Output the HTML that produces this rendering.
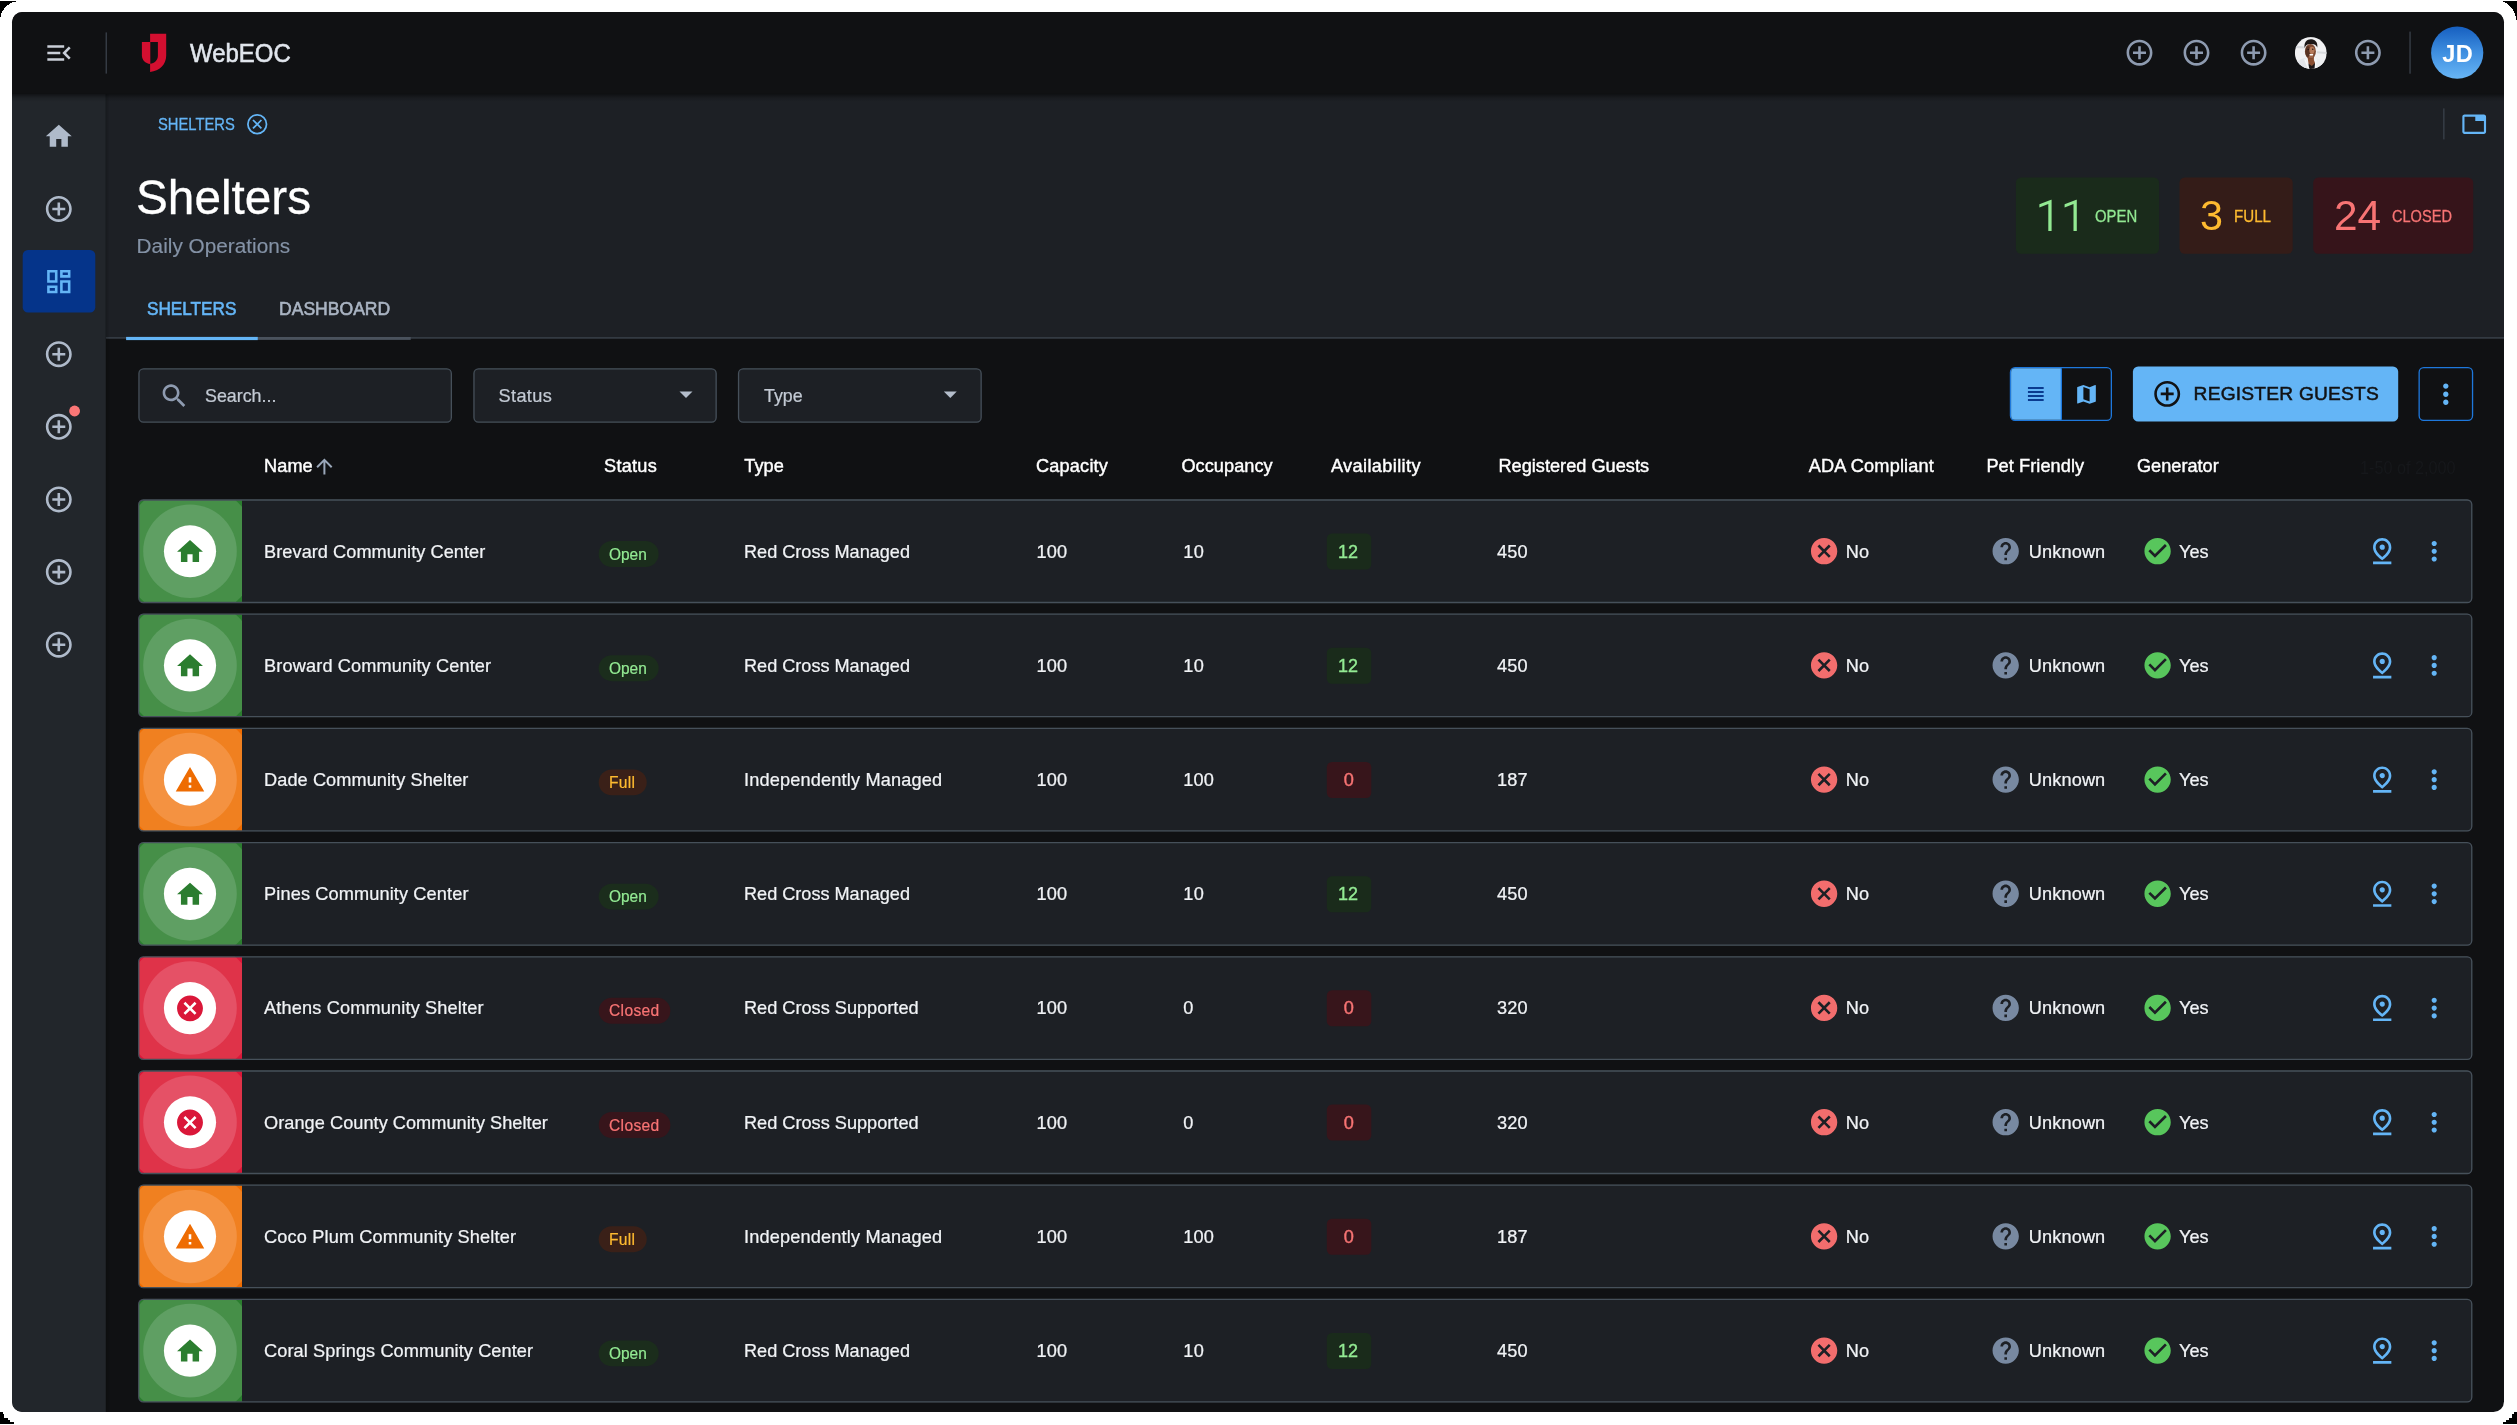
<!DOCTYPE html>
<html><head><meta charset="utf-8"><title>Shelters - WebEOC</title>
<style>
html,body{margin:0;padding:0;}
body{width:2517px;height:1425px;background:#fff;position:relative;overflow:hidden;font-family:"Liberation Sans", sans-serif;}
#app{position:absolute;left:12px;top:12px;width:2492px;height:1400px;border-radius:10.5px;overflow:hidden;background:#101113;}
#in{position:absolute;left:-12px;top:-12px;width:2517px;height:1425px;will-change:transform;}
#g{position:absolute;left:0;top:0;}
.t{position:absolute;white-space:nowrap;line-height:1;-webkit-font-smoothing:antialiased;font-family:"Liberation Sans", sans-serif;}
.c{position:absolute;}
</style></head><body>
<svg class="c" style="left:0;top:0" width="24" height="24" viewBox="0 0 24 24" shape-rendering="crispEdges"><path d="M0 1H20A20 20 0 0 0 0 21Z" fill="#000"/></svg>
<svg class="c" style="left:2493px;top:0" width="24" height="28" viewBox="0 0 24 28" shape-rendering="crispEdges"><path d="M24 1H6A18 24 0 0 1 24 25Z" fill="#000"/></svg>
<svg class="c" style="left:0;top:1405px" width="20" height="20" viewBox="0 0 20 20" shape-rendering="crispEdges"><path d="M0 7H3V9H4V13H8V15H10V17H14V19H0Z" fill="#000"/></svg>
<svg class="c" style="left:2497px;top:1405px" width="20" height="20" viewBox="0 0 20 20" shape-rendering="crispEdges"><path d="M20 7H17V9H15V13H12V15H9V17H6V19H20Z" fill="#000"/></svg>
<div id="app"><div id="in">
<svg id="g" width="2517" height="1425" viewBox="0 0 2517 1425"><defs><linearGradient id="gTop" x1="0" y1="0" x2="0" y2="1"><stop offset="0" stop-color="#000" stop-opacity=".5"/><stop offset=".5" stop-color="#000" stop-opacity=".15"/><stop offset="1" stop-color="#000" stop-opacity="0"/></linearGradient><linearGradient id="gSide" x1="0" y1="0" x2="1" y2="0"><stop offset="0" stop-color="#000" stop-opacity=".2"/><stop offset="1" stop-color="#000" stop-opacity="0"/></linearGradient><linearGradient id="gJD" x1="0" y1="0" x2="0" y2="1"><stop offset="0" stop-color="#165fc0"/><stop offset=".5" stop-color="#3f8fe0"/><stop offset="1" stop-color="#68b6f6"/></linearGradient><clipPath id="pc"><circle cx="15.9" cy="15.9" r="15.9"/></clipPath><filter id="pb" x="-10%" y="-10%" width="120%" height="120%"><feGaussianBlur stdDeviation="0.45"/></filter><clipPath id="rc0"><path d="M143.3 499.95H242V602.55H143.3A4.6 4.6 0 0 1 138.7 597.95V504.55A4.6 4.6 0 0 1 143.3 499.95Z"/></clipPath><clipPath id="rc1"><path d="M143.3 614.15H242V716.75H143.3A4.6 4.6 0 0 1 138.7 712.15V618.75A4.6 4.6 0 0 1 143.3 614.15Z"/></clipPath><clipPath id="rc2"><path d="M143.3 728.35H242V830.95H143.3A4.6 4.6 0 0 1 138.7 826.35V732.95A4.6 4.6 0 0 1 143.3 728.35Z"/></clipPath><clipPath id="rc3"><path d="M143.3 842.55H242V945.15H143.3A4.6 4.6 0 0 1 138.7 940.55V847.15A4.6 4.6 0 0 1 143.3 842.55Z"/></clipPath><clipPath id="rc4"><path d="M143.3 956.75H242V1059.35H143.3A4.6 4.6 0 0 1 138.7 1054.75V961.35A4.6 4.6 0 0 1 143.3 956.75Z"/></clipPath><clipPath id="rc5"><path d="M143.3 1070.95H242V1173.55H143.3A4.6 4.6 0 0 1 138.7 1168.95V1075.55A4.6 4.6 0 0 1 143.3 1070.95Z"/></clipPath><clipPath id="rc6"><path d="M143.3 1185.15H242V1287.75H143.3A4.6 4.6 0 0 1 138.7 1283.15V1189.75A4.6 4.6 0 0 1 143.3 1185.15Z"/></clipPath><clipPath id="rc7"><path d="M143.3 1299.35H242V1401.95H143.3A4.6 4.6 0 0 1 138.7 1397.35V1303.95A4.6 4.6 0 0 1 143.3 1299.35Z"/></clipPath></defs>
<rect x="105.8" y="94" width="2398.2" height="244.6" fill="#1d2025"/>
<rect x="105.8" y="337.2" width="2398.2" height="1.4" fill="#3a414a"/>
<rect x="12" y="94" width="93.8" height="1318" fill="#22262b"/>
<rect x="105.8" y="94" width="4" height="1318" fill="url(#gSide)"/>
<svg x="43.25" y="120.75" width="31.1" height="31.1" viewBox="0 0 24 24"><path fill="#afbaca" d="M10 20v-6h4v6h5v-8h3L12 3 2 12h3v8z"/></svg>
<svg x="43.25" y="193.38" width="31.1" height="31.1" viewBox="0 0 24 24"><path fill="#afbaca" d="M13 7h-2v4H7v2h4v4h2v-4h4v-2h-4V7zm-1-5C6.48 2 2 6.48 2 12s4.48 10 10 10 10-4.48 10-10S17.52 2 12 2zm0 18c-4.41 0-8-3.59-8-8s3.59-8 8-8 8 3.59 8 8-3.59 8-8 8z"/></svg>
<rect x="22.7" y="250.1" width="72.6" height="62.3" rx="5.2" fill="#05348a"/>
<svg x="43.25" y="266.01" width="31.1" height="31.1" viewBox="0 0 24 24"><path fill="#64b5f6" d="M19 5v2h-4V5h4M9 5v6H5V5h4m10 8v6h-4v-6h4M9 17v2H5v-2h4M21 3h-8v6h8V3zM11 3H3v10h8V3zm10 8h-8v10h8V11zm-10 4H3v6h8v-6z"/></svg>
<svg x="43.25" y="338.64" width="31.1" height="31.1" viewBox="0 0 24 24"><path fill="#afbaca" d="M13 7h-2v4H7v2h4v4h2v-4h4v-2h-4V7zm-1-5C6.48 2 2 6.48 2 12s4.48 10 10 10 10-4.48 10-10S17.52 2 12 2zm0 18c-4.41 0-8-3.59-8-8s3.59-8 8-8 8 3.59 8 8-3.59 8-8 8z"/></svg>
<svg x="43.25" y="411.27" width="31.1" height="31.1" viewBox="0 0 24 24"><path fill="#afbaca" d="M13 7h-2v4H7v2h4v4h2v-4h4v-2h-4V7zm-1-5C6.48 2 2 6.48 2 12s4.48 10 10 10 10-4.48 10-10S17.52 2 12 2zm0 18c-4.41 0-8-3.59-8-8s3.59-8 8-8 8 3.59 8 8-3.59 8-8 8z"/></svg>
<svg x="43.25" y="483.9" width="31.1" height="31.1" viewBox="0 0 24 24"><path fill="#afbaca" d="M13 7h-2v4H7v2h4v4h2v-4h4v-2h-4V7zm-1-5C6.48 2 2 6.48 2 12s4.48 10 10 10 10-4.48 10-10S17.52 2 12 2zm0 18c-4.41 0-8-3.59-8-8s3.59-8 8-8 8 3.59 8 8-3.59 8-8 8z"/></svg>
<svg x="43.25" y="556.53" width="31.1" height="31.1" viewBox="0 0 24 24"><path fill="#afbaca" d="M13 7h-2v4H7v2h4v4h2v-4h4v-2h-4V7zm-1-5C6.48 2 2 6.48 2 12s4.48 10 10 10 10-4.48 10-10S17.52 2 12 2zm0 18c-4.41 0-8-3.59-8-8s3.59-8 8-8 8 3.59 8 8-3.59 8-8 8z"/></svg>
<svg x="43.25" y="629.16" width="31.1" height="31.1" viewBox="0 0 24 24"><path fill="#afbaca" d="M13 7h-2v4H7v2h4v4h2v-4h4v-2h-4V7zm-1-5C6.48 2 2 6.48 2 12s4.48 10 10 10 10-4.48 10-10S17.52 2 12 2zm0 18c-4.41 0-8-3.59-8-8s3.59-8 8-8 8 3.59 8 8-3.59 8-8 8z"/></svg>
<circle cx="74.6" cy="411" r="5.4" fill="#fb7676"/>
<rect x="12" y="93.9" width="2492" height="8" fill="url(#gTop)"/>
<rect x="12" y="12" width="2492" height="81.9" fill="#101113"/>
<svg x="43.45" y="37.45" width="31.1" height="31.1" viewBox="0 0 24 24"><path fill="#c9ced8" d="M3 18h13v-2H3v2zm0-5h10v-2H3v2zm0-7v2h13V6H3zm18 9.59L17.42 12 21 8.41 19.59 7l-5 5 5 5L21 15.59z"/></svg>
<rect x="105.6" y="32.4" width="1.3" height="41.2" fill="#3a414b"/>
<path fill="#d30f30" d="M150.1 33.8H166.2V55.6C166.2 64.6 159.6 71 150.1 72.1V63.7C154.6 63.1 157.9 60.1 157.9 55.4V42.1H150.1Z"/><path fill="#d30f30" d="M141.9 42.1H150.3V64.1C145.2 63.4 141.9 60.2 141.9 55.3Z"/>
<svg x="2123.95" y="37.15" width="31.1" height="31.1" viewBox="0 0 24 24"><path fill="#8e9bb0" d="M13 7h-2v4H7v2h4v4h2v-4h4v-2h-4V7zm-1-5C6.48 2 2 6.48 2 12s4.48 10 10 10 10-4.48 10-10S17.52 2 12 2zm0 18c-4.41 0-8-3.59-8-8s3.59-8 8-8 8 3.59 8 8-3.59 8-8 8z"/></svg>
<svg x="2180.95" y="37.15" width="31.1" height="31.1" viewBox="0 0 24 24"><path fill="#8e9bb0" d="M13 7h-2v4H7v2h4v4h2v-4h4v-2h-4V7zm-1-5C6.48 2 2 6.48 2 12s4.48 10 10 10 10-4.48 10-10S17.52 2 12 2zm0 18c-4.41 0-8-3.59-8-8s3.59-8 8-8 8 3.59 8 8-3.59 8-8 8z"/></svg>
<svg x="2238.05" y="37.15" width="31.1" height="31.1" viewBox="0 0 24 24"><path fill="#8e9bb0" d="M13 7h-2v4H7v2h4v4h2v-4h4v-2h-4V7zm-1-5C6.48 2 2 6.48 2 12s4.48 10 10 10 10-4.48 10-10S17.52 2 12 2zm0 18c-4.41 0-8-3.59-8-8s3.59-8 8-8 8 3.59 8 8-3.59 8-8 8z"/></svg>
<svg x="2352.35" y="37.15" width="31.1" height="31.1" viewBox="0 0 24 24"><path fill="#8e9bb0" d="M13 7h-2v4H7v2h4v4h2v-4h4v-2h-4V7zm-1-5C6.48 2 2 6.48 2 12s4.48 10 10 10 10-4.48 10-10S17.52 2 12 2zm0 18c-4.41 0-8-3.59-8-8s3.59-8 8-8 8 3.59 8 8-3.59 8-8 8z"/></svg>
<svg x="2294.9" y="37.1" width="31.8" height="31.8" viewBox="0 0 31.8 31.8"><g clip-path="url(#pc)"><rect width="31.8" height="31.8" fill="#f1f1f3"/><g filter="url(#pb)"><path d="M0 8.5L9 9.5V11.5L0 10.8Z" fill="#d6d8dc"/><path d="M22 14.2L31.8 14.8V17L22 16.2Z" fill="#d9dbde"/><path d="M0 31.8V27C3 23 7 21.5 10.5 21L14.5 31.8Z" fill="#e3e5e9"/><path d="M31.8 31.8V26C28 23.5 24 22 20.5 21L19.5 31.8Z" fill="#eceef0"/><path d="M12.6 19.5H19V23L20.3 26.5L16.8 30L13.6 26.5Z" fill="#8a4f31"/><path d="M13.6 26.5L16.9 29L20.2 26L21 31.8H14Z" fill="#1a1718"/><path d="M10.2 21.2L14.6 31.8H13L9.4 22.5Z" fill="#f7f8f9"/><path d="M20.6 21L19.6 31.8H21.2L21.8 22Z" fill="#f7f8f9"/><ellipse cx="15.5" cy="14.3" rx="5.5" ry="7.5" fill="#7d4a33"/><ellipse cx="13" cy="14.5" rx="2.6" ry="5.6" fill="#4d2b1f" opacity=".75"/><ellipse cx="17" cy="13.2" rx="2.6" ry="3.6" fill="#c08362" opacity=".85"/><ellipse cx="16.2" cy="19.4" rx="2.4" ry="1.6" fill="#a86d4d" opacity=".8"/><path d="M9.7 11.2C8.8 5.2 12 2.2 15.8 2.2S23.2 4.6 22.4 10.4C21.4 8 19.8 6.9 16 6.9S10.8 8.2 9.7 11.2Z" fill="#1b1818"/><rect x="14.5" y="16.9" width="3.9" height="1.5" rx=".7" fill="#fff"/><circle cx="13.3" cy="12.4" r=".7" fill="#1a1212"/><circle cx="17.9" cy="12.1" r=".7" fill="#1a1212"/></g></g></svg>
<rect x="2409.4" y="31.6" width="1.3" height="42.1" fill="#3a414b"/>
<circle cx="2457.2" cy="52.7" r="26.1" fill="url(#gJD)"/>
<svg x="245.2" y="112.2" width="24" height="24" viewBox="0 0 24 24"><circle cx="12" cy="12" r="9.3" fill="none" stroke="#64b5f6" stroke-width="1.75"/><path d="M7.8 7.8L16.2 16.2M16.2 7.8L7.8 16.2" stroke="#64b5f6" stroke-width="1.75" fill="none"/></svg>
<rect x="2443.2" y="108.4" width="1.3" height="31" fill="#3a414b"/>
<svg x="2461.25" y="111.25" width="25.9" height="25.9" viewBox="0 0 24 24"><path fill="#64b5f6" d="M21 3H3c-1.1 0-2 .9-2 2v14c0 1.1.9 2 2 2h18c1.1 0 2-.9 2-2V5c0-1.1-.9-2-2-2zm0 16H3V5h10v4h8v10z"/></svg>
<rect x="2015.9" y="177.5" width="143.2" height="76.2" rx="5.2" fill="#1a2b1b"/>
<path fill="#92e992" d="M2051.6 231H2048.3V203.9L2039.4 207.4V204.2L2051.1 199.8H2051.6Z"/>
<path fill="#92e992" d="M2076.8 231H2073.5V203.9L2064.6 207.4V204.2L2076.3 199.8H2076.8Z"/>
<rect x="2179.5" y="177.5" width="113.2" height="76.2" rx="5.2" fill="#341c18"/>
<rect x="2313.2" y="177.5" width="160" height="76.2" rx="5.2" fill="#36141a"/>
<rect x="257.8" y="337" width="152.9" height="2.9" fill="#4a525d"/>
<rect x="126.1" y="336.9" width="131.7" height="3.2" fill="#64b5f6"/>
<rect x="138.95" y="368.85" width="312.4" height="53.2" rx="4.55" fill="#1d2025" stroke="#46505a" stroke-width="1.3"/>
<svg x="158.75" y="380.45" width="31.1" height="31.1" viewBox="0 0 24 24"><path fill="#8e9bb0" d="M15.5 14h-.79l-.28-.27C15.41 12.59 16 11.11 16 9.5 16 5.91 13.09 3 9.5 3S3 5.91 3 9.5 5.91 16 9.5 16c1.61 0 3.09-.59 4.23-1.57l.27.28v.79l5 4.99L20.49 19l-4.99-5zm-6 0C7.01 14 5 11.99 5 9.5S7.01 5 9.5 5 14 7.01 14 9.5 11.99 14 9.5 14z"/></svg>
<rect x="473.95" y="368.85" width="242.2" height="53.2" rx="4.55" fill="#1d2025" stroke="#46505a" stroke-width="1.3"/>
<svg x="670.45" y="378.65" width="31.1" height="31.1" viewBox="0 0 24 24"><path fill="#b4bdcb" d="M7 10l5 5 5-5z"/></svg>
<rect x="738.55" y="368.85" width="242.6" height="53.2" rx="4.55" fill="#1d2025" stroke="#46505a" stroke-width="1.3"/>
<svg x="934.75" y="378.65" width="31.1" height="31.1" viewBox="0 0 24 24"><path fill="#b4bdcb" d="M7 10l5 5 5-5z"/></svg>
<rect x="2010.45" y="367.65" width="100.9" height="52.7" rx="4.55" fill="#101113" stroke="#1e78dc" stroke-width="1.3"/>
<path fill="#64b5f6" d="M2061.3 368.3V419.7H2015A3.9 3.9 0 0 1 2011.1 415.8V372.2A3.9 3.9 0 0 1 2015 368.3Z"/>
<rect x="2060.7" y="368.3" width="1.3" height="51.4" fill="#1e78dc"/>
<svg x="2024" y="382.2" width="23.6" height="23.6" viewBox="0 0 24 24"><path fill="#0a3a8f" d="M4 15h16v-2H4v2zm0 4h16v-2H4v2zm0-8h16V9H4v2zm0-6v2h16V5H4z"/></svg>
<svg x="2074.05" y="381.85" width="24.9" height="24.9" viewBox="0 0 24 24"><path fill="#64b5f6" d="M20.5 3l-.16.03L15 5.1 9 3 3.36 4.9c-.21.07-.36.25-.36.48V20.5c0 .28.22.5.5.5l.16-.03L9 18.9l6 2.1 5.64-1.9c.21-.07.36-.25.36-.48V3.5c0-.28-.22-.5-.5-.5zM15 19l-6-2.11V5l6 2.11V19z"/></svg>
<rect x="2132.9" y="366.5" width="265.3" height="55.1" rx="5.2" fill="#64b5f6"/>
<svg x="2151.65" y="378.35" width="31.1" height="31.1" viewBox="0 0 24 24"><path fill="#111214" d="M13 7h-2v4H7v2h4v4h2v-4h4v-2h-4V7zm-1-5C6.48 2 2 6.48 2 12s4.48 10 10 10 10-4.48 10-10S17.52 2 12 2zm0 18c-4.41 0-8-3.59-8-8s3.59-8 8-8 8 3.59 8 8-3.59 8-8 8z"/></svg>
<rect x="2419.15" y="367.65" width="53.4" height="52.7" rx="4.55" fill="#101113" stroke="#1e78dc" stroke-width="1.3"/>
<svg x="2429.6" y="378" width="32.4" height="32.4" viewBox="0 0 24 24"><path fill="#64b5f6" d="M12 8c1.1 0 2-.9 2-2s-.9-2-2-2-2 .9-2 2 .9 2 2 2zm0 2c-1.1 0-2 .9-2 2s.9 2 2 2 2-.9 2-2-.9-2-2-2zm0 6c-1.1 0-2 .9-2 2s.9 2 2 2 2-.9 2-2-.9-2-2-2z"/></svg>
<svg x="312.4" y="454.5" width="24" height="24" viewBox="0 0 24 24"><path fill="#9aa7b9" d="M4 12l1.41 1.41L11 7.83V20h2V7.83l5.58 5.59L20 12l-8-8-8 8z"/></svg>
<rect x="138.1" y="499.35" width="2334.3" height="103.8" rx="5.2" fill="#1d2025"/>
<g clip-path="url(#rc0)"><rect x="138.7" y="499.95" width="103.3" height="102.6" fill="#2b7d2f"/><circle cx="190" cy="551.25" r="68.4" fill="#468f48"/><circle cx="190" cy="551.25" r="46.8" fill="#5f9f63"/></g>
<circle cx="190" cy="551.25" r="26.1" fill="#fff"/>
<rect x="138.75" y="500" width="2333" height="102.5" rx="4.55" fill="none" stroke="#46505a" stroke-width="1.3"/>
<svg x="174.45" y="536.2" width="31.1" height="31.1" viewBox="0 0 24 24"><path fill="#2b7d2f" d="M10 20v-6h4v6h5v-8h3L12 3 2 12h3v8z"/></svg>
<rect x="598.7" y="541.05" width="59.9" height="25.9" rx="12.95" fill="#1b2d1c"/>
<rect x="1326.8" y="533.55" width="44.5" height="36" rx="5.2" fill="#1a2b1b"/>
<svg x="1808.3" y="535.35" width="31.6" height="31.6" viewBox="0 0 24 24"><path fill="#f26d6d" d="M12 2C6.47 2 2 6.47 2 12s4.47 10 10 10 10-4.47 10-10S17.53 2 12 2zm5 13.59L15.59 17 12 13.41 8.41 17 7 15.59 10.59 12 7 8.41 8.41 7 12 10.59 15.59 7 17 8.41 13.41 12 17 15.59z"/></svg>
<svg x="1989.9" y="535.35" width="31.6" height="31.6" viewBox="0 0 24 24"><path fill="#7889a1" d="M12 2C6.48 2 2 6.48 2 12s4.48 10 10 10 10-4.48 10-10S17.52 2 12 2zm1 17h-2v-2h2v2zm2.07-7.75l-.9.92C13.45 12.9 13 13.5 13 15h-2v-.5c0-1.1.45-2.1 1.17-2.83l1.24-1.26c.37-.36.59-.86.59-1.41 0-1.1-.9-2-2-2s-2 .9-2 2H8c0-2.21 1.79-4 4-4s4 1.79 4 4c0 .88-.36 1.68-.93 2.25z"/></svg>
<svg x="2141.8" y="535.35" width="31.6" height="31.6" viewBox="0 0 24 24"><path fill="#58c65c" d="M12 2C6.48 2 2 6.48 2 12s4.48 10 10 10 10-4.48 10-10S17.52 2 12 2zm-2 15l-5-5 1.41-1.41L10 14.17l7.59-7.59L19 8l-9 9z"/></svg>
<svg x="2366.5" y="535.45" width="31.4" height="31.4" viewBox="0 0 24 24"><path fill="#64b5f6" d="M12 4c1.93 0 5 1.4 5 5.15 0 2.16-1.72 4.67-5 7.32-3.28-2.65-5-5.17-5-7.32C7 5.4 10.07 4 12 4m0-2C8.73 2 5 4.46 5 9.15c0 3.12 2.33 6.41 7 9.85 4.67-3.44 7-6.73 7-9.85C19 4.46 15.27 2 12 2zM12 7c-1.1 0-2 .9-2 2s.9 2 2 2a2 2 0 1 0 0-4zM5 20h14v2H5v-2z"/></svg>
<svg x="2418.65" y="535.7" width="31.1" height="31.1" viewBox="0 0 24 24"><path fill="#64b5f6" d="M12 8c1.1 0 2-.9 2-2s-.9-2-2-2-2 .9-2 2 .9 2 2 2zm0 2c-1.1 0-2 .9-2 2s.9 2 2 2 2-.9 2-2-.9-2-2-2zm0 6c-1.1 0-2 .9-2 2s.9 2 2 2 2-.9 2-2-.9-2-2-2z"/></svg>
<rect x="138.1" y="613.55" width="2334.3" height="103.8" rx="5.2" fill="#1d2025"/>
<g clip-path="url(#rc1)"><rect x="138.7" y="614.15" width="103.3" height="102.6" fill="#2b7d2f"/><circle cx="190" cy="665.45" r="68.4" fill="#468f48"/><circle cx="190" cy="665.45" r="46.8" fill="#5f9f63"/></g>
<circle cx="190" cy="665.45" r="26.1" fill="#fff"/>
<rect x="138.75" y="614.2" width="2333" height="102.5" rx="4.55" fill="none" stroke="#46505a" stroke-width="1.3"/>
<svg x="174.45" y="650.4" width="31.1" height="31.1" viewBox="0 0 24 24"><path fill="#2b7d2f" d="M10 20v-6h4v6h5v-8h3L12 3 2 12h3v8z"/></svg>
<rect x="598.7" y="655.25" width="59.9" height="25.9" rx="12.95" fill="#1b2d1c"/>
<rect x="1326.8" y="647.75" width="44.5" height="36" rx="5.2" fill="#1a2b1b"/>
<svg x="1808.3" y="649.55" width="31.6" height="31.6" viewBox="0 0 24 24"><path fill="#f26d6d" d="M12 2C6.47 2 2 6.47 2 12s4.47 10 10 10 10-4.47 10-10S17.53 2 12 2zm5 13.59L15.59 17 12 13.41 8.41 17 7 15.59 10.59 12 7 8.41 8.41 7 12 10.59 15.59 7 17 8.41 13.41 12 17 15.59z"/></svg>
<svg x="1989.9" y="649.55" width="31.6" height="31.6" viewBox="0 0 24 24"><path fill="#7889a1" d="M12 2C6.48 2 2 6.48 2 12s4.48 10 10 10 10-4.48 10-10S17.52 2 12 2zm1 17h-2v-2h2v2zm2.07-7.75l-.9.92C13.45 12.9 13 13.5 13 15h-2v-.5c0-1.1.45-2.1 1.17-2.83l1.24-1.26c.37-.36.59-.86.59-1.41 0-1.1-.9-2-2-2s-2 .9-2 2H8c0-2.21 1.79-4 4-4s4 1.79 4 4c0 .88-.36 1.68-.93 2.25z"/></svg>
<svg x="2141.8" y="649.55" width="31.6" height="31.6" viewBox="0 0 24 24"><path fill="#58c65c" d="M12 2C6.48 2 2 6.48 2 12s4.48 10 10 10 10-4.48 10-10S17.52 2 12 2zm-2 15l-5-5 1.41-1.41L10 14.17l7.59-7.59L19 8l-9 9z"/></svg>
<svg x="2366.5" y="649.65" width="31.4" height="31.4" viewBox="0 0 24 24"><path fill="#64b5f6" d="M12 4c1.93 0 5 1.4 5 5.15 0 2.16-1.72 4.67-5 7.32-3.28-2.65-5-5.17-5-7.32C7 5.4 10.07 4 12 4m0-2C8.73 2 5 4.46 5 9.15c0 3.12 2.33 6.41 7 9.85 4.67-3.44 7-6.73 7-9.85C19 4.46 15.27 2 12 2zM12 7c-1.1 0-2 .9-2 2s.9 2 2 2a2 2 0 1 0 0-4zM5 20h14v2H5v-2z"/></svg>
<svg x="2418.65" y="649.9" width="31.1" height="31.1" viewBox="0 0 24 24"><path fill="#64b5f6" d="M12 8c1.1 0 2-.9 2-2s-.9-2-2-2-2 .9-2 2 .9 2 2 2zm0 2c-1.1 0-2 .9-2 2s.9 2 2 2 2-.9 2-2-.9-2-2-2zm0 6c-1.1 0-2 .9-2 2s.9 2 2 2 2-.9 2-2-.9-2-2-2z"/></svg>
<rect x="138.1" y="727.75" width="2334.3" height="103.8" rx="5.2" fill="#1d2025"/>
<g clip-path="url(#rc2)"><rect x="138.7" y="728.35" width="103.3" height="102.6" fill="#ee6c02"/><circle cx="190" cy="779.65" r="68.4" fill="#f08020"/><circle cx="190" cy="779.65" r="46.8" fill="#f49241"/></g>
<circle cx="190" cy="779.65" r="26.1" fill="#fff"/>
<rect x="138.75" y="728.4" width="2333" height="102.5" rx="4.55" fill="none" stroke="#46505a" stroke-width="1.3"/>
<svg x="174.45" y="764.4" width="31.1" height="31.1" viewBox="0 0 24 24"><path fill="#ee6c02" d="M1 21h22L12 2 1 21zm12-3h-2v-2h2v2zm0-4h-2v-4h2v4z"/></svg>
<rect x="598.7" y="769.45" width="48" height="25.9" rx="12.95" fill="#3a2018"/>
<rect x="1326.8" y="761.95" width="44.5" height="36" rx="5.2" fill="#37151b"/>
<svg x="1808.3" y="763.75" width="31.6" height="31.6" viewBox="0 0 24 24"><path fill="#f26d6d" d="M12 2C6.47 2 2 6.47 2 12s4.47 10 10 10 10-4.47 10-10S17.53 2 12 2zm5 13.59L15.59 17 12 13.41 8.41 17 7 15.59 10.59 12 7 8.41 8.41 7 12 10.59 15.59 7 17 8.41 13.41 12 17 15.59z"/></svg>
<svg x="1989.9" y="763.75" width="31.6" height="31.6" viewBox="0 0 24 24"><path fill="#7889a1" d="M12 2C6.48 2 2 6.48 2 12s4.48 10 10 10 10-4.48 10-10S17.52 2 12 2zm1 17h-2v-2h2v2zm2.07-7.75l-.9.92C13.45 12.9 13 13.5 13 15h-2v-.5c0-1.1.45-2.1 1.17-2.83l1.24-1.26c.37-.36.59-.86.59-1.41 0-1.1-.9-2-2-2s-2 .9-2 2H8c0-2.21 1.79-4 4-4s4 1.79 4 4c0 .88-.36 1.68-.93 2.25z"/></svg>
<svg x="2141.8" y="763.75" width="31.6" height="31.6" viewBox="0 0 24 24"><path fill="#58c65c" d="M12 2C6.48 2 2 6.48 2 12s4.48 10 10 10 10-4.48 10-10S17.52 2 12 2zm-2 15l-5-5 1.41-1.41L10 14.17l7.59-7.59L19 8l-9 9z"/></svg>
<svg x="2366.5" y="763.85" width="31.4" height="31.4" viewBox="0 0 24 24"><path fill="#64b5f6" d="M12 4c1.93 0 5 1.4 5 5.15 0 2.16-1.72 4.67-5 7.32-3.28-2.65-5-5.17-5-7.32C7 5.4 10.07 4 12 4m0-2C8.73 2 5 4.46 5 9.15c0 3.12 2.33 6.41 7 9.85 4.67-3.44 7-6.73 7-9.85C19 4.46 15.27 2 12 2zM12 7c-1.1 0-2 .9-2 2s.9 2 2 2a2 2 0 1 0 0-4zM5 20h14v2H5v-2z"/></svg>
<svg x="2418.65" y="764.1" width="31.1" height="31.1" viewBox="0 0 24 24"><path fill="#64b5f6" d="M12 8c1.1 0 2-.9 2-2s-.9-2-2-2-2 .9-2 2 .9 2 2 2zm0 2c-1.1 0-2 .9-2 2s.9 2 2 2 2-.9 2-2-.9-2-2-2zm0 6c-1.1 0-2 .9-2 2s.9 2 2 2 2-.9 2-2-.9-2-2-2z"/></svg>
<rect x="138.1" y="841.95" width="2334.3" height="103.8" rx="5.2" fill="#1d2025"/>
<g clip-path="url(#rc3)"><rect x="138.7" y="842.55" width="103.3" height="102.6" fill="#2b7d2f"/><circle cx="190" cy="893.85" r="68.4" fill="#468f48"/><circle cx="190" cy="893.85" r="46.8" fill="#5f9f63"/></g>
<circle cx="190" cy="893.85" r="26.1" fill="#fff"/>
<rect x="138.75" y="842.6" width="2333" height="102.5" rx="4.55" fill="none" stroke="#46505a" stroke-width="1.3"/>
<svg x="174.45" y="878.8" width="31.1" height="31.1" viewBox="0 0 24 24"><path fill="#2b7d2f" d="M10 20v-6h4v6h5v-8h3L12 3 2 12h3v8z"/></svg>
<rect x="598.7" y="883.65" width="59.9" height="25.9" rx="12.95" fill="#1b2d1c"/>
<rect x="1326.8" y="876.15" width="44.5" height="36" rx="5.2" fill="#1a2b1b"/>
<svg x="1808.3" y="877.95" width="31.6" height="31.6" viewBox="0 0 24 24"><path fill="#f26d6d" d="M12 2C6.47 2 2 6.47 2 12s4.47 10 10 10 10-4.47 10-10S17.53 2 12 2zm5 13.59L15.59 17 12 13.41 8.41 17 7 15.59 10.59 12 7 8.41 8.41 7 12 10.59 15.59 7 17 8.41 13.41 12 17 15.59z"/></svg>
<svg x="1989.9" y="877.95" width="31.6" height="31.6" viewBox="0 0 24 24"><path fill="#7889a1" d="M12 2C6.48 2 2 6.48 2 12s4.48 10 10 10 10-4.48 10-10S17.52 2 12 2zm1 17h-2v-2h2v2zm2.07-7.75l-.9.92C13.45 12.9 13 13.5 13 15h-2v-.5c0-1.1.45-2.1 1.17-2.83l1.24-1.26c.37-.36.59-.86.59-1.41 0-1.1-.9-2-2-2s-2 .9-2 2H8c0-2.21 1.79-4 4-4s4 1.79 4 4c0 .88-.36 1.68-.93 2.25z"/></svg>
<svg x="2141.8" y="877.95" width="31.6" height="31.6" viewBox="0 0 24 24"><path fill="#58c65c" d="M12 2C6.48 2 2 6.48 2 12s4.48 10 10 10 10-4.48 10-10S17.52 2 12 2zm-2 15l-5-5 1.41-1.41L10 14.17l7.59-7.59L19 8l-9 9z"/></svg>
<svg x="2366.5" y="878.05" width="31.4" height="31.4" viewBox="0 0 24 24"><path fill="#64b5f6" d="M12 4c1.93 0 5 1.4 5 5.15 0 2.16-1.72 4.67-5 7.32-3.28-2.65-5-5.17-5-7.32C7 5.4 10.07 4 12 4m0-2C8.73 2 5 4.46 5 9.15c0 3.12 2.33 6.41 7 9.85 4.67-3.44 7-6.73 7-9.85C19 4.46 15.27 2 12 2zM12 7c-1.1 0-2 .9-2 2s.9 2 2 2a2 2 0 1 0 0-4zM5 20h14v2H5v-2z"/></svg>
<svg x="2418.65" y="878.3" width="31.1" height="31.1" viewBox="0 0 24 24"><path fill="#64b5f6" d="M12 8c1.1 0 2-.9 2-2s-.9-2-2-2-2 .9-2 2 .9 2 2 2zm0 2c-1.1 0-2 .9-2 2s.9 2 2 2 2-.9 2-2-.9-2-2-2zm0 6c-1.1 0-2 .9-2 2s.9 2 2 2 2-.9 2-2-.9-2-2-2z"/></svg>
<rect x="138.1" y="956.15" width="2334.3" height="103.8" rx="5.2" fill="#1d2025"/>
<g clip-path="url(#rc4)"><rect x="138.7" y="956.75" width="103.3" height="102.6" fill="#da1739"/><circle cx="190" cy="1008.05" r="68.4" fill="#df3349"/><circle cx="190" cy="1008.05" r="46.8" fill="#e55166"/></g>
<circle cx="190" cy="1008.05" r="26.1" fill="#fff"/>
<rect x="138.75" y="956.8" width="2333" height="102.5" rx="4.55" fill="none" stroke="#46505a" stroke-width="1.3"/>
<svg x="174.45" y="992.8" width="31.1" height="31.1" viewBox="0 0 24 24"><path fill="#da1739" d="M12 2C6.47 2 2 6.47 2 12s4.47 10 10 10 10-4.47 10-10S17.53 2 12 2zm5 13.59L15.59 17 12 13.41 8.41 17 7 15.59 10.59 12 7 8.41 8.41 7 12 10.59 15.59 7 17 8.41 13.41 12 17 15.59z"/></svg>
<rect x="598.7" y="997.85" width="71.7" height="25.9" rx="12.95" fill="#37151b"/>
<rect x="1326.8" y="990.35" width="44.5" height="36" rx="5.2" fill="#37151b"/>
<svg x="1808.3" y="992.15" width="31.6" height="31.6" viewBox="0 0 24 24"><path fill="#f26d6d" d="M12 2C6.47 2 2 6.47 2 12s4.47 10 10 10 10-4.47 10-10S17.53 2 12 2zm5 13.59L15.59 17 12 13.41 8.41 17 7 15.59 10.59 12 7 8.41 8.41 7 12 10.59 15.59 7 17 8.41 13.41 12 17 15.59z"/></svg>
<svg x="1989.9" y="992.15" width="31.6" height="31.6" viewBox="0 0 24 24"><path fill="#7889a1" d="M12 2C6.48 2 2 6.48 2 12s4.48 10 10 10 10-4.48 10-10S17.52 2 12 2zm1 17h-2v-2h2v2zm2.07-7.75l-.9.92C13.45 12.9 13 13.5 13 15h-2v-.5c0-1.1.45-2.1 1.17-2.83l1.24-1.26c.37-.36.59-.86.59-1.41 0-1.1-.9-2-2-2s-2 .9-2 2H8c0-2.21 1.79-4 4-4s4 1.79 4 4c0 .88-.36 1.68-.93 2.25z"/></svg>
<svg x="2141.8" y="992.15" width="31.6" height="31.6" viewBox="0 0 24 24"><path fill="#58c65c" d="M12 2C6.48 2 2 6.48 2 12s4.48 10 10 10 10-4.48 10-10S17.52 2 12 2zm-2 15l-5-5 1.41-1.41L10 14.17l7.59-7.59L19 8l-9 9z"/></svg>
<svg x="2366.5" y="992.25" width="31.4" height="31.4" viewBox="0 0 24 24"><path fill="#64b5f6" d="M12 4c1.93 0 5 1.4 5 5.15 0 2.16-1.72 4.67-5 7.32-3.28-2.65-5-5.17-5-7.32C7 5.4 10.07 4 12 4m0-2C8.73 2 5 4.46 5 9.15c0 3.12 2.33 6.41 7 9.85 4.67-3.44 7-6.73 7-9.85C19 4.46 15.27 2 12 2zM12 7c-1.1 0-2 .9-2 2s.9 2 2 2a2 2 0 1 0 0-4zM5 20h14v2H5v-2z"/></svg>
<svg x="2418.65" y="992.5" width="31.1" height="31.1" viewBox="0 0 24 24"><path fill="#64b5f6" d="M12 8c1.1 0 2-.9 2-2s-.9-2-2-2-2 .9-2 2 .9 2 2 2zm0 2c-1.1 0-2 .9-2 2s.9 2 2 2 2-.9 2-2-.9-2-2-2zm0 6c-1.1 0-2 .9-2 2s.9 2 2 2 2-.9 2-2-.9-2-2-2z"/></svg>
<rect x="138.1" y="1070.35" width="2334.3" height="103.8" rx="5.2" fill="#1d2025"/>
<g clip-path="url(#rc5)"><rect x="138.7" y="1070.95" width="103.3" height="102.6" fill="#da1739"/><circle cx="190" cy="1122.25" r="68.4" fill="#df3349"/><circle cx="190" cy="1122.25" r="46.8" fill="#e55166"/></g>
<circle cx="190" cy="1122.25" r="26.1" fill="#fff"/>
<rect x="138.75" y="1071" width="2333" height="102.5" rx="4.55" fill="none" stroke="#46505a" stroke-width="1.3"/>
<svg x="174.45" y="1107" width="31.1" height="31.1" viewBox="0 0 24 24"><path fill="#da1739" d="M12 2C6.47 2 2 6.47 2 12s4.47 10 10 10 10-4.47 10-10S17.53 2 12 2zm5 13.59L15.59 17 12 13.41 8.41 17 7 15.59 10.59 12 7 8.41 8.41 7 12 10.59 15.59 7 17 8.41 13.41 12 17 15.59z"/></svg>
<rect x="598.7" y="1112.05" width="71.7" height="25.9" rx="12.95" fill="#37151b"/>
<rect x="1326.8" y="1104.55" width="44.5" height="36" rx="5.2" fill="#37151b"/>
<svg x="1808.3" y="1106.35" width="31.6" height="31.6" viewBox="0 0 24 24"><path fill="#f26d6d" d="M12 2C6.47 2 2 6.47 2 12s4.47 10 10 10 10-4.47 10-10S17.53 2 12 2zm5 13.59L15.59 17 12 13.41 8.41 17 7 15.59 10.59 12 7 8.41 8.41 7 12 10.59 15.59 7 17 8.41 13.41 12 17 15.59z"/></svg>
<svg x="1989.9" y="1106.35" width="31.6" height="31.6" viewBox="0 0 24 24"><path fill="#7889a1" d="M12 2C6.48 2 2 6.48 2 12s4.48 10 10 10 10-4.48 10-10S17.52 2 12 2zm1 17h-2v-2h2v2zm2.07-7.75l-.9.92C13.45 12.9 13 13.5 13 15h-2v-.5c0-1.1.45-2.1 1.17-2.83l1.24-1.26c.37-.36.59-.86.59-1.41 0-1.1-.9-2-2-2s-2 .9-2 2H8c0-2.21 1.79-4 4-4s4 1.79 4 4c0 .88-.36 1.68-.93 2.25z"/></svg>
<svg x="2141.8" y="1106.35" width="31.6" height="31.6" viewBox="0 0 24 24"><path fill="#58c65c" d="M12 2C6.48 2 2 6.48 2 12s4.48 10 10 10 10-4.48 10-10S17.52 2 12 2zm-2 15l-5-5 1.41-1.41L10 14.17l7.59-7.59L19 8l-9 9z"/></svg>
<svg x="2366.5" y="1106.45" width="31.4" height="31.4" viewBox="0 0 24 24"><path fill="#64b5f6" d="M12 4c1.93 0 5 1.4 5 5.15 0 2.16-1.72 4.67-5 7.32-3.28-2.65-5-5.17-5-7.32C7 5.4 10.07 4 12 4m0-2C8.73 2 5 4.46 5 9.15c0 3.12 2.33 6.41 7 9.85 4.67-3.44 7-6.73 7-9.85C19 4.46 15.27 2 12 2zM12 7c-1.1 0-2 .9-2 2s.9 2 2 2a2 2 0 1 0 0-4zM5 20h14v2H5v-2z"/></svg>
<svg x="2418.65" y="1106.7" width="31.1" height="31.1" viewBox="0 0 24 24"><path fill="#64b5f6" d="M12 8c1.1 0 2-.9 2-2s-.9-2-2-2-2 .9-2 2 .9 2 2 2zm0 2c-1.1 0-2 .9-2 2s.9 2 2 2 2-.9 2-2-.9-2-2-2zm0 6c-1.1 0-2 .9-2 2s.9 2 2 2 2-.9 2-2-.9-2-2-2z"/></svg>
<rect x="138.1" y="1184.55" width="2334.3" height="103.8" rx="5.2" fill="#1d2025"/>
<g clip-path="url(#rc6)"><rect x="138.7" y="1185.15" width="103.3" height="102.6" fill="#ee6c02"/><circle cx="190" cy="1236.45" r="68.4" fill="#f08020"/><circle cx="190" cy="1236.45" r="46.8" fill="#f49241"/></g>
<circle cx="190" cy="1236.45" r="26.1" fill="#fff"/>
<rect x="138.75" y="1185.2" width="2333" height="102.5" rx="4.55" fill="none" stroke="#46505a" stroke-width="1.3"/>
<svg x="174.45" y="1221.2" width="31.1" height="31.1" viewBox="0 0 24 24"><path fill="#ee6c02" d="M1 21h22L12 2 1 21zm12-3h-2v-2h2v2zm0-4h-2v-4h2v4z"/></svg>
<rect x="598.7" y="1226.25" width="48" height="25.9" rx="12.95" fill="#3a2018"/>
<rect x="1326.8" y="1218.75" width="44.5" height="36" rx="5.2" fill="#37151b"/>
<svg x="1808.3" y="1220.55" width="31.6" height="31.6" viewBox="0 0 24 24"><path fill="#f26d6d" d="M12 2C6.47 2 2 6.47 2 12s4.47 10 10 10 10-4.47 10-10S17.53 2 12 2zm5 13.59L15.59 17 12 13.41 8.41 17 7 15.59 10.59 12 7 8.41 8.41 7 12 10.59 15.59 7 17 8.41 13.41 12 17 15.59z"/></svg>
<svg x="1989.9" y="1220.55" width="31.6" height="31.6" viewBox="0 0 24 24"><path fill="#7889a1" d="M12 2C6.48 2 2 6.48 2 12s4.48 10 10 10 10-4.48 10-10S17.52 2 12 2zm1 17h-2v-2h2v2zm2.07-7.75l-.9.92C13.45 12.9 13 13.5 13 15h-2v-.5c0-1.1.45-2.1 1.17-2.83l1.24-1.26c.37-.36.59-.86.59-1.41 0-1.1-.9-2-2-2s-2 .9-2 2H8c0-2.21 1.79-4 4-4s4 1.79 4 4c0 .88-.36 1.68-.93 2.25z"/></svg>
<svg x="2141.8" y="1220.55" width="31.6" height="31.6" viewBox="0 0 24 24"><path fill="#58c65c" d="M12 2C6.48 2 2 6.48 2 12s4.48 10 10 10 10-4.48 10-10S17.52 2 12 2zm-2 15l-5-5 1.41-1.41L10 14.17l7.59-7.59L19 8l-9 9z"/></svg>
<svg x="2366.5" y="1220.65" width="31.4" height="31.4" viewBox="0 0 24 24"><path fill="#64b5f6" d="M12 4c1.93 0 5 1.4 5 5.15 0 2.16-1.72 4.67-5 7.32-3.28-2.65-5-5.17-5-7.32C7 5.4 10.07 4 12 4m0-2C8.73 2 5 4.46 5 9.15c0 3.12 2.33 6.41 7 9.85 4.67-3.44 7-6.73 7-9.85C19 4.46 15.27 2 12 2zM12 7c-1.1 0-2 .9-2 2s.9 2 2 2a2 2 0 1 0 0-4zM5 20h14v2H5v-2z"/></svg>
<svg x="2418.65" y="1220.9" width="31.1" height="31.1" viewBox="0 0 24 24"><path fill="#64b5f6" d="M12 8c1.1 0 2-.9 2-2s-.9-2-2-2-2 .9-2 2 .9 2 2 2zm0 2c-1.1 0-2 .9-2 2s.9 2 2 2 2-.9 2-2-.9-2-2-2zm0 6c-1.1 0-2 .9-2 2s.9 2 2 2 2-.9 2-2-.9-2-2-2z"/></svg>
<rect x="138.1" y="1298.75" width="2334.3" height="103.8" rx="5.2" fill="#1d2025"/>
<g clip-path="url(#rc7)"><rect x="138.7" y="1299.35" width="103.3" height="102.6" fill="#2b7d2f"/><circle cx="190" cy="1350.65" r="68.4" fill="#468f48"/><circle cx="190" cy="1350.65" r="46.8" fill="#5f9f63"/></g>
<circle cx="190" cy="1350.65" r="26.1" fill="#fff"/>
<rect x="138.75" y="1299.4" width="2333" height="102.5" rx="4.55" fill="none" stroke="#46505a" stroke-width="1.3"/>
<svg x="174.45" y="1335.6" width="31.1" height="31.1" viewBox="0 0 24 24"><path fill="#2b7d2f" d="M10 20v-6h4v6h5v-8h3L12 3 2 12h3v8z"/></svg>
<rect x="598.7" y="1340.45" width="59.9" height="25.9" rx="12.95" fill="#1b2d1c"/>
<rect x="1326.8" y="1332.95" width="44.5" height="36" rx="5.2" fill="#1a2b1b"/>
<svg x="1808.3" y="1334.75" width="31.6" height="31.6" viewBox="0 0 24 24"><path fill="#f26d6d" d="M12 2C6.47 2 2 6.47 2 12s4.47 10 10 10 10-4.47 10-10S17.53 2 12 2zm5 13.59L15.59 17 12 13.41 8.41 17 7 15.59 10.59 12 7 8.41 8.41 7 12 10.59 15.59 7 17 8.41 13.41 12 17 15.59z"/></svg>
<svg x="1989.9" y="1334.75" width="31.6" height="31.6" viewBox="0 0 24 24"><path fill="#7889a1" d="M12 2C6.48 2 2 6.48 2 12s4.48 10 10 10 10-4.48 10-10S17.52 2 12 2zm1 17h-2v-2h2v2zm2.07-7.75l-.9.92C13.45 12.9 13 13.5 13 15h-2v-.5c0-1.1.45-2.1 1.17-2.83l1.24-1.26c.37-.36.59-.86.59-1.41 0-1.1-.9-2-2-2s-2 .9-2 2H8c0-2.21 1.79-4 4-4s4 1.79 4 4c0 .88-.36 1.68-.93 2.25z"/></svg>
<svg x="2141.8" y="1334.75" width="31.6" height="31.6" viewBox="0 0 24 24"><path fill="#58c65c" d="M12 2C6.48 2 2 6.48 2 12s4.48 10 10 10 10-4.48 10-10S17.52 2 12 2zm-2 15l-5-5 1.41-1.41L10 14.17l7.59-7.59L19 8l-9 9z"/></svg>
<svg x="2366.5" y="1334.85" width="31.4" height="31.4" viewBox="0 0 24 24"><path fill="#64b5f6" d="M12 4c1.93 0 5 1.4 5 5.15 0 2.16-1.72 4.67-5 7.32-3.28-2.65-5-5.17-5-7.32C7 5.4 10.07 4 12 4m0-2C8.73 2 5 4.46 5 9.15c0 3.12 2.33 6.41 7 9.85 4.67-3.44 7-6.73 7-9.85C19 4.46 15.27 2 12 2zM12 7c-1.1 0-2 .9-2 2s.9 2 2 2a2 2 0 1 0 0-4zM5 20h14v2H5v-2z"/></svg>
<svg x="2418.65" y="1335.1" width="31.1" height="31.1" viewBox="0 0 24 24"><path fill="#64b5f6" d="M12 8c1.1 0 2-.9 2-2s-.9-2-2-2-2 .9-2 2 .9 2 2 2zm0 2c-1.1 0-2 .9-2 2s.9 2 2 2 2-.9 2-2-.9-2-2-2zm0 6c-1.1 0-2 .9-2 2s.9 2 2 2 2-.9 2-2-.9-2-2-2z"/></svg>
</svg>
<span id="t1" class="t" style="left:189.6px;top:40.42px;font-size:26.2px;color:#e1e6ed;-webkit-text-stroke:0.55px #e1e6ed;transform:scaleX(0.9153);transform-origin:0 0;">WebEOC</span>
<span id="t2" class="t" style="left:2442.3px;top:42.92px;font-size:23.6px;color:#ffffff;font-weight:700;letter-spacing:0.23px;">JD</span>
<span id="t3" class="t" style="left:158px;top:116.09px;font-size:16.2px;color:#64b5f6;-webkit-text-stroke:0.3px #64b5f6;transform:scaleX(0.9114);transform-origin:0 0;">SHELTERS</span>
<span id="t4" class="t" style="left:136.2px;top:173.12px;font-size:49px;color:#ffffff;-webkit-text-stroke:0.3px #ffffff;transform:scaleX(0.9740);transform-origin:0 0;">Shelters</span>
<span id="t5" class="t" style="left:136.6px;top:236.34px;font-size:20.75px;color:#8492a6;-webkit-text-stroke:0.15px #8492a6;letter-spacing:0.01px;">Daily Operations</span>
<span id="t6" class="t" style="left:2095px;top:207.67px;font-size:16.1px;color:#92e992;-webkit-text-stroke:0.3px #92e992;transform:scaleX(0.9249);transform-origin:0 0;">OPEN</span>
<span id="t7" class="t" style="left:2200px;top:194.43px;font-size:43.2px;color:#fdba30;transform:scaleX(0.9571);transform-origin:0 0;">3</span>
<span id="t8" class="t" style="left:2234.2px;top:207.67px;font-size:16.1px;color:#fdba30;-webkit-text-stroke:0.3px #fdba30;transform:scaleX(0.9401);transform-origin:0 0;">FULL</span>
<span id="t9" class="t" style="left:2334px;top:194.43px;font-size:43.2px;color:#f87474;transform:scaleX(0.9824);transform-origin:0 0;">24</span>
<span id="t10" class="t" style="left:2392.4px;top:207.67px;font-size:16.1px;color:#f87474;-webkit-text-stroke:0.3px #f87474;transform:scaleX(0.9050);transform-origin:0 0;">CLOSED</span>
<span id="t11" class="t" style="left:147.3px;top:300.85px;font-size:17.9px;color:#64b5f6;-webkit-text-stroke:0.6px #64b5f6;transform:scaleX(0.9600);transform-origin:0 0;">SHELTERS</span>
<span id="t12" class="t" style="left:278.6px;top:300.85px;font-size:17.9px;color:#aab4c3;-webkit-text-stroke:0.6px #aab4c3;transform:scaleX(0.9812);transform-origin:0 0;">DASHBOARD</span>
<span id="t13" class="t" style="left:205.4px;top:386.73px;font-size:18.16px;color:#c3cad4;-webkit-text-stroke:0.24px #c3cad4;transform:scaleX(0.9825);transform-origin:0 0;">Search...</span>
<span id="t14" class="t" style="left:498.6px;top:386.73px;font-size:18.16px;color:#c3cad4;-webkit-text-stroke:0.24px #c3cad4;letter-spacing:0.34px;">Status</span>
<span id="t15" class="t" style="left:763.6px;top:386.73px;font-size:18.16px;color:#c3cad4;-webkit-text-stroke:0.24px #c3cad4;transform:scaleX(0.9803);transform-origin:0 0;">Type</span>
<span id="t16" class="t" style="left:2193.6px;top:384.45px;font-size:19.2px;color:#111214;-webkit-text-stroke:0.5px #111214;letter-spacing:0.21px;">REGISTER GUESTS</span>
<span id="t17" class="t" style="left:264px;top:456.93px;font-size:18.16px;color:#ffffff;-webkit-text-stroke:0.42px #ffffff;letter-spacing:0.09px;">Name</span>
<span id="t18" class="t" style="left:604.1px;top:456.93px;font-size:18.16px;color:#ffffff;-webkit-text-stroke:0.42px #ffffff;letter-spacing:0.24px;">Status</span>
<span id="t19" class="t" style="left:744.3px;top:456.93px;font-size:18.16px;color:#ffffff;-webkit-text-stroke:0.42px #ffffff;letter-spacing:0.04px;">Type</span>
<span id="t20" class="t" style="left:1036px;top:456.93px;font-size:18.16px;color:#ffffff;-webkit-text-stroke:0.42px #ffffff;letter-spacing:0.18px;">Capacity</span>
<span id="t21" class="t" style="left:1181.4px;top:456.93px;font-size:18.16px;color:#ffffff;-webkit-text-stroke:0.42px #ffffff;letter-spacing:0.06px;">Occupancy</span>
<span id="t22" class="t" style="left:1330.9px;top:456.93px;font-size:18.16px;color:#ffffff;-webkit-text-stroke:0.42px #ffffff;letter-spacing:0.38px;">Availability</span>
<span id="t23" class="t" style="left:1498.4px;top:456.93px;font-size:18.16px;color:#ffffff;-webkit-text-stroke:0.42px #ffffff;letter-spacing:0.02px;">Registered Guests</span>
<span id="t24" class="t" style="left:1808.8px;top:456.93px;font-size:18.16px;color:#ffffff;-webkit-text-stroke:0.42px #ffffff;letter-spacing:0.16px;">ADA Compliant</span>
<span id="t25" class="t" style="left:1986.4px;top:456.93px;font-size:18.16px;color:#ffffff;-webkit-text-stroke:0.42px #ffffff;letter-spacing:0.08px;">Pet Friendly</span>
<span id="t26" class="t" style="left:2136.7px;top:456.93px;font-size:18.16px;color:#ffffff;-webkit-text-stroke:0.42px #ffffff;transform:scaleX(0.9994);transform-origin:0 0;">Generator</span>
<span id="t27" class="t" style="left:2359.7px;top:459.99px;font-size:17.5px;color:#16181b;transform:scaleX(0.9269);transform-origin:0 0;">1-50 of 2,000</span>
<span id="t28" class="t" style="left:264.1px;top:542.58px;font-size:18.16px;color:#f1f3f6;-webkit-text-stroke:0.24px #f1f3f6;letter-spacing:0.05px;">Brevard Community Center</span>
<span id="t29" class="t" style="left:609px;top:546.54px;font-size:15.6px;color:#93ea93;-webkit-text-stroke:0.22px #93ea93;transform:scaleX(0.9907);transform-origin:0 0;">Open</span>
<span id="t30" class="t" style="left:744.1px;top:542.58px;font-size:18.16px;color:#f1f3f6;-webkit-text-stroke:0.24px #f1f3f6;transform:scaleX(0.9968);transform-origin:0 0;">Red Cross Managed</span>
<span id="t31" class="t" style="left:1036.6px;top:542.58px;font-size:18.16px;color:#f1f3f6;-webkit-text-stroke:0.24px #f1f3f6;letter-spacing:0.15px;">100</span>
<span id="t32" class="t" style="left:1183.2px;top:542.58px;font-size:18.16px;color:#f1f3f6;-webkit-text-stroke:0.24px #f1f3f6;letter-spacing:0.4px;">10</span>
<span id="t33" class="t" style="left:1338.25px;top:542.58px;font-size:18.16px;color:#93ea93;-webkit-text-stroke:0.4px #93ea93;transform:scaleX(0.9899);transform-origin:0 0;">12</span>
<span id="t34" class="t" style="left:1496.9px;top:542.58px;font-size:18.16px;color:#f1f3f6;-webkit-text-stroke:0.24px #f1f3f6;letter-spacing:0.15px;">450</span>
<span id="t35" class="t" style="left:1845.8px;top:542.58px;font-size:18.16px;color:#f1f3f6;-webkit-text-stroke:0.24px #f1f3f6;letter-spacing:0.18px;">No</span>
<span id="t36" class="t" style="left:2028.8px;top:542.58px;font-size:18.16px;color:#f1f3f6;-webkit-text-stroke:0.24px #f1f3f6;letter-spacing:0.12px;">Unknown</span>
<span id="t37" class="t" style="left:2179.4px;top:542.58px;font-size:18.16px;color:#f1f3f6;-webkit-text-stroke:0.24px #f1f3f6;transform:scaleX(0.9992);transform-origin:0 0;">Yes</span>
<span id="t38" class="t" style="left:264.1px;top:656.78px;font-size:18.16px;color:#f1f3f6;-webkit-text-stroke:0.24px #f1f3f6;letter-spacing:0.13px;">Broward Community Center</span>
<span id="t39" class="t" style="left:609px;top:660.74px;font-size:15.6px;color:#93ea93;-webkit-text-stroke:0.22px #93ea93;transform:scaleX(0.9907);transform-origin:0 0;">Open</span>
<span id="t40" class="t" style="left:744.1px;top:656.78px;font-size:18.16px;color:#f1f3f6;-webkit-text-stroke:0.24px #f1f3f6;transform:scaleX(0.9968);transform-origin:0 0;">Red Cross Managed</span>
<span id="t41" class="t" style="left:1036.6px;top:656.78px;font-size:18.16px;color:#f1f3f6;-webkit-text-stroke:0.24px #f1f3f6;letter-spacing:0.15px;">100</span>
<span id="t42" class="t" style="left:1183.2px;top:656.78px;font-size:18.16px;color:#f1f3f6;-webkit-text-stroke:0.24px #f1f3f6;letter-spacing:0.4px;">10</span>
<span id="t43" class="t" style="left:1338.25px;top:656.78px;font-size:18.16px;color:#93ea93;-webkit-text-stroke:0.4px #93ea93;transform:scaleX(0.9899);transform-origin:0 0;">12</span>
<span id="t44" class="t" style="left:1496.9px;top:656.78px;font-size:18.16px;color:#f1f3f6;-webkit-text-stroke:0.24px #f1f3f6;letter-spacing:0.15px;">450</span>
<span id="t45" class="t" style="left:1845.8px;top:656.78px;font-size:18.16px;color:#f1f3f6;-webkit-text-stroke:0.24px #f1f3f6;letter-spacing:0.18px;">No</span>
<span id="t46" class="t" style="left:2028.8px;top:656.78px;font-size:18.16px;color:#f1f3f6;-webkit-text-stroke:0.24px #f1f3f6;letter-spacing:0.12px;">Unknown</span>
<span id="t47" class="t" style="left:2179.4px;top:656.78px;font-size:18.16px;color:#f1f3f6;-webkit-text-stroke:0.24px #f1f3f6;transform:scaleX(0.9992);transform-origin:0 0;">Yes</span>
<span id="t48" class="t" style="left:264.1px;top:770.98px;font-size:18.16px;color:#f1f3f6;-webkit-text-stroke:0.24px #f1f3f6;letter-spacing:0.07px;">Dade Community Shelter</span>
<span id="t49" class="t" style="left:609px;top:774.94px;font-size:15.6px;color:#fdba30;-webkit-text-stroke:0.22px #fdba30;letter-spacing:0.29px;">Full</span>
<span id="t50" class="t" style="left:744.1px;top:770.98px;font-size:18.16px;color:#f1f3f6;-webkit-text-stroke:0.24px #f1f3f6;letter-spacing:0.16px;">Independently Managed</span>
<span id="t51" class="t" style="left:1036.6px;top:770.98px;font-size:18.16px;color:#f1f3f6;-webkit-text-stroke:0.24px #f1f3f6;letter-spacing:0.15px;">100</span>
<span id="t52" class="t" style="left:1183.2px;top:770.98px;font-size:18.16px;color:#f1f3f6;-webkit-text-stroke:0.24px #f1f3f6;letter-spacing:0.15px;">100</span>
<span id="t53" class="t" style="left:1343.65px;top:770.98px;font-size:18.16px;color:#f87474;-webkit-text-stroke:0.4px #f87474;letter-spacing:0px;">0</span>
<span id="t54" class="t" style="left:1496.9px;top:770.98px;font-size:18.16px;color:#f1f3f6;-webkit-text-stroke:0.24px #f1f3f6;letter-spacing:0.15px;">187</span>
<span id="t55" class="t" style="left:1845.8px;top:770.98px;font-size:18.16px;color:#f1f3f6;-webkit-text-stroke:0.24px #f1f3f6;letter-spacing:0.18px;">No</span>
<span id="t56" class="t" style="left:2028.8px;top:770.98px;font-size:18.16px;color:#f1f3f6;-webkit-text-stroke:0.24px #f1f3f6;letter-spacing:0.12px;">Unknown</span>
<span id="t57" class="t" style="left:2179.4px;top:770.98px;font-size:18.16px;color:#f1f3f6;-webkit-text-stroke:0.24px #f1f3f6;transform:scaleX(0.9992);transform-origin:0 0;">Yes</span>
<span id="t58" class="t" style="left:264.1px;top:885.18px;font-size:18.16px;color:#f1f3f6;-webkit-text-stroke:0.24px #f1f3f6;letter-spacing:0.12px;">Pines Community Center</span>
<span id="t59" class="t" style="left:609px;top:889.14px;font-size:15.6px;color:#93ea93;-webkit-text-stroke:0.22px #93ea93;transform:scaleX(0.9907);transform-origin:0 0;">Open</span>
<span id="t60" class="t" style="left:744.1px;top:885.18px;font-size:18.16px;color:#f1f3f6;-webkit-text-stroke:0.24px #f1f3f6;transform:scaleX(0.9968);transform-origin:0 0;">Red Cross Managed</span>
<span id="t61" class="t" style="left:1036.6px;top:885.18px;font-size:18.16px;color:#f1f3f6;-webkit-text-stroke:0.24px #f1f3f6;letter-spacing:0.15px;">100</span>
<span id="t62" class="t" style="left:1183.2px;top:885.18px;font-size:18.16px;color:#f1f3f6;-webkit-text-stroke:0.24px #f1f3f6;letter-spacing:0.4px;">10</span>
<span id="t63" class="t" style="left:1338.25px;top:885.18px;font-size:18.16px;color:#93ea93;-webkit-text-stroke:0.4px #93ea93;transform:scaleX(0.9899);transform-origin:0 0;">12</span>
<span id="t64" class="t" style="left:1496.9px;top:885.18px;font-size:18.16px;color:#f1f3f6;-webkit-text-stroke:0.24px #f1f3f6;letter-spacing:0.15px;">450</span>
<span id="t65" class="t" style="left:1845.8px;top:885.18px;font-size:18.16px;color:#f1f3f6;-webkit-text-stroke:0.24px #f1f3f6;letter-spacing:0.18px;">No</span>
<span id="t66" class="t" style="left:2028.8px;top:885.18px;font-size:18.16px;color:#f1f3f6;-webkit-text-stroke:0.24px #f1f3f6;letter-spacing:0.12px;">Unknown</span>
<span id="t67" class="t" style="left:2179.4px;top:885.18px;font-size:18.16px;color:#f1f3f6;-webkit-text-stroke:0.24px #f1f3f6;transform:scaleX(0.9992);transform-origin:0 0;">Yes</span>
<span id="t68" class="t" style="left:264.1px;top:999.38px;font-size:18.16px;color:#f1f3f6;-webkit-text-stroke:0.24px #f1f3f6;letter-spacing:0.15px;">Athens Community Shelter</span>
<span id="t69" class="t" style="left:609px;top:1003.34px;font-size:15.6px;color:#f87474;-webkit-text-stroke:0.22px #f87474;letter-spacing:0.35px;">Closed</span>
<span id="t70" class="t" style="left:744.1px;top:999.38px;font-size:18.16px;color:#f1f3f6;-webkit-text-stroke:0.24px #f1f3f6;transform:scaleX(0.9999);transform-origin:0 0;">Red Cross Supported</span>
<span id="t71" class="t" style="left:1036.6px;top:999.38px;font-size:18.16px;color:#f1f3f6;-webkit-text-stroke:0.24px #f1f3f6;letter-spacing:0.15px;">100</span>
<span id="t72" class="t" style="left:1183.2px;top:999.38px;font-size:18.16px;color:#f1f3f6;-webkit-text-stroke:0.24px #f1f3f6;letter-spacing:0px;">0</span>
<span id="t73" class="t" style="left:1343.65px;top:999.38px;font-size:18.16px;color:#f87474;-webkit-text-stroke:0.4px #f87474;letter-spacing:0px;">0</span>
<span id="t74" class="t" style="left:1496.9px;top:999.38px;font-size:18.16px;color:#f1f3f6;-webkit-text-stroke:0.24px #f1f3f6;letter-spacing:0.15px;">320</span>
<span id="t75" class="t" style="left:1845.8px;top:999.38px;font-size:18.16px;color:#f1f3f6;-webkit-text-stroke:0.24px #f1f3f6;letter-spacing:0.18px;">No</span>
<span id="t76" class="t" style="left:2028.8px;top:999.38px;font-size:18.16px;color:#f1f3f6;-webkit-text-stroke:0.24px #f1f3f6;letter-spacing:0.12px;">Unknown</span>
<span id="t77" class="t" style="left:2179.4px;top:999.38px;font-size:18.16px;color:#f1f3f6;-webkit-text-stroke:0.24px #f1f3f6;transform:scaleX(0.9992);transform-origin:0 0;">Yes</span>
<span id="t78" class="t" style="left:264.1px;top:1113.58px;font-size:18.16px;color:#f1f3f6;-webkit-text-stroke:0.24px #f1f3f6;letter-spacing:0.04px;">Orange County Community Shelter</span>
<span id="t79" class="t" style="left:609px;top:1117.54px;font-size:15.6px;color:#f87474;-webkit-text-stroke:0.22px #f87474;letter-spacing:0.35px;">Closed</span>
<span id="t80" class="t" style="left:744.1px;top:1113.58px;font-size:18.16px;color:#f1f3f6;-webkit-text-stroke:0.24px #f1f3f6;transform:scaleX(0.9999);transform-origin:0 0;">Red Cross Supported</span>
<span id="t81" class="t" style="left:1036.6px;top:1113.58px;font-size:18.16px;color:#f1f3f6;-webkit-text-stroke:0.24px #f1f3f6;letter-spacing:0.15px;">100</span>
<span id="t82" class="t" style="left:1183.2px;top:1113.58px;font-size:18.16px;color:#f1f3f6;-webkit-text-stroke:0.24px #f1f3f6;letter-spacing:0px;">0</span>
<span id="t83" class="t" style="left:1343.65px;top:1113.58px;font-size:18.16px;color:#f87474;-webkit-text-stroke:0.4px #f87474;letter-spacing:0px;">0</span>
<span id="t84" class="t" style="left:1496.9px;top:1113.58px;font-size:18.16px;color:#f1f3f6;-webkit-text-stroke:0.24px #f1f3f6;letter-spacing:0.15px;">320</span>
<span id="t85" class="t" style="left:1845.8px;top:1113.58px;font-size:18.16px;color:#f1f3f6;-webkit-text-stroke:0.24px #f1f3f6;letter-spacing:0.18px;">No</span>
<span id="t86" class="t" style="left:2028.8px;top:1113.58px;font-size:18.16px;color:#f1f3f6;-webkit-text-stroke:0.24px #f1f3f6;letter-spacing:0.12px;">Unknown</span>
<span id="t87" class="t" style="left:2179.4px;top:1113.58px;font-size:18.16px;color:#f1f3f6;-webkit-text-stroke:0.24px #f1f3f6;transform:scaleX(0.9992);transform-origin:0 0;">Yes</span>
<span id="t88" class="t" style="left:264.1px;top:1227.78px;font-size:18.16px;color:#f1f3f6;-webkit-text-stroke:0.24px #f1f3f6;letter-spacing:0.14px;">Coco Plum Community Shelter</span>
<span id="t89" class="t" style="left:609px;top:1231.74px;font-size:15.6px;color:#fdba30;-webkit-text-stroke:0.22px #fdba30;letter-spacing:0.29px;">Full</span>
<span id="t90" class="t" style="left:744.1px;top:1227.78px;font-size:18.16px;color:#f1f3f6;-webkit-text-stroke:0.24px #f1f3f6;letter-spacing:0.16px;">Independently Managed</span>
<span id="t91" class="t" style="left:1036.6px;top:1227.78px;font-size:18.16px;color:#f1f3f6;-webkit-text-stroke:0.24px #f1f3f6;letter-spacing:0.15px;">100</span>
<span id="t92" class="t" style="left:1183.2px;top:1227.78px;font-size:18.16px;color:#f1f3f6;-webkit-text-stroke:0.24px #f1f3f6;letter-spacing:0.15px;">100</span>
<span id="t93" class="t" style="left:1343.65px;top:1227.78px;font-size:18.16px;color:#f87474;-webkit-text-stroke:0.4px #f87474;letter-spacing:0px;">0</span>
<span id="t94" class="t" style="left:1496.9px;top:1227.78px;font-size:18.16px;color:#f1f3f6;-webkit-text-stroke:0.24px #f1f3f6;letter-spacing:0.15px;">187</span>
<span id="t95" class="t" style="left:1845.8px;top:1227.78px;font-size:18.16px;color:#f1f3f6;-webkit-text-stroke:0.24px #f1f3f6;letter-spacing:0.18px;">No</span>
<span id="t96" class="t" style="left:2028.8px;top:1227.78px;font-size:18.16px;color:#f1f3f6;-webkit-text-stroke:0.24px #f1f3f6;letter-spacing:0.12px;">Unknown</span>
<span id="t97" class="t" style="left:2179.4px;top:1227.78px;font-size:18.16px;color:#f1f3f6;-webkit-text-stroke:0.24px #f1f3f6;transform:scaleX(0.9992);transform-origin:0 0;">Yes</span>
<span id="t98" class="t" style="left:264.1px;top:1341.98px;font-size:18.16px;color:#f1f3f6;-webkit-text-stroke:0.24px #f1f3f6;letter-spacing:0.09px;">Coral Springs Community Center</span>
<span id="t99" class="t" style="left:609px;top:1345.94px;font-size:15.6px;color:#93ea93;-webkit-text-stroke:0.22px #93ea93;transform:scaleX(0.9907);transform-origin:0 0;">Open</span>
<span id="t100" class="t" style="left:744.1px;top:1341.98px;font-size:18.16px;color:#f1f3f6;-webkit-text-stroke:0.24px #f1f3f6;transform:scaleX(0.9968);transform-origin:0 0;">Red Cross Managed</span>
<span id="t101" class="t" style="left:1036.6px;top:1341.98px;font-size:18.16px;color:#f1f3f6;-webkit-text-stroke:0.24px #f1f3f6;letter-spacing:0.15px;">100</span>
<span id="t102" class="t" style="left:1183.2px;top:1341.98px;font-size:18.16px;color:#f1f3f6;-webkit-text-stroke:0.24px #f1f3f6;letter-spacing:0.4px;">10</span>
<span id="t103" class="t" style="left:1338.25px;top:1341.98px;font-size:18.16px;color:#93ea93;-webkit-text-stroke:0.4px #93ea93;transform:scaleX(0.9899);transform-origin:0 0;">12</span>
<span id="t104" class="t" style="left:1496.9px;top:1341.98px;font-size:18.16px;color:#f1f3f6;-webkit-text-stroke:0.24px #f1f3f6;letter-spacing:0.15px;">450</span>
<span id="t105" class="t" style="left:1845.8px;top:1341.98px;font-size:18.16px;color:#f1f3f6;-webkit-text-stroke:0.24px #f1f3f6;letter-spacing:0.18px;">No</span>
<span id="t106" class="t" style="left:2028.8px;top:1341.98px;font-size:18.16px;color:#f1f3f6;-webkit-text-stroke:0.24px #f1f3f6;letter-spacing:0.12px;">Unknown</span>
<span id="t107" class="t" style="left:2179.4px;top:1341.98px;font-size:18.16px;color:#f1f3f6;-webkit-text-stroke:0.24px #f1f3f6;transform:scaleX(0.9992);transform-origin:0 0;">Yes</span>
</div></div>
</body></html>
